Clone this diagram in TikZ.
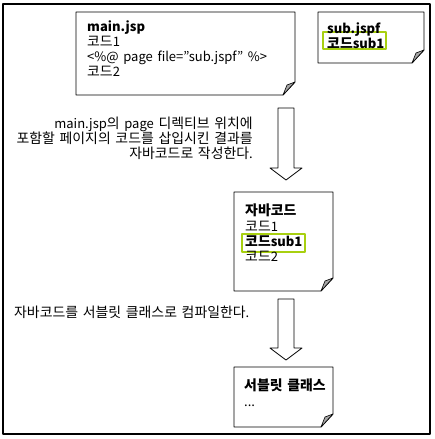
\documentclass[tikz,border=0pt]{standalone}
\usepackage{fontspec}
\setmainfont{Noto Sans CJK KR}[WordSpace=1.6]
\newfontfamily\latfont{Noto Sans CJK KR}[WordSpace=1.6]
\newfontfamily\hgfont{Noto Sans CJK KR}[Scale=1.07, WordSpace=1.6]
\usetikzlibrary{positioning,calc}

% Hangul gets a slightly larger face than Latin
\XeTeXinterchartokenstate=1
\newXeTeXintercharclass\hgclass
\count255="AC00
\loop\XeTeXcharclass\count255=\hgclass \ifnum\count255<"D7A3 \advance\count255 by 1 \repeat
\XeTeXinterchartoks 0 \hgclass={\hgfont}
\XeTeXinterchartoks 4095 \hgclass={\hgfont}
\XeTeXinterchartoks \hgclass 0={\latfont}
\XeTeXinterchartoks \hgclass 4095={\latfont}

\begin{document}
\begin{tikzpicture}[
    x=1pt, y=-1pt,
    font=\fontsize{13}{15.3}\selectfont,
    line join=round,
    line cap=round
]

% ========= Colors =========
\definecolor{subgreen}{RGB}{168,208,16}
\definecolor{curlgray}{RGB}{165,165,165}

\tikzset{
    docpage/.style={inner sep=0pt, outer sep=0pt},
    doctext/.style={inner sep=0pt, align=left, anchor=north west},
    hilite/.style={draw=subgreen, line width=2.6pt},
    blockarrow/.style={draw, line width=0.8pt, fill=white}
}

% ========= Helper: page with folded corner =========
% args: node name
\newcommand{\dogear}[1]{
    \draw[line width=0.9pt] (#1.north west) -- (#1.north east) -- ($(#1.south east)+(0,-13)$)
        -- ($(#1.south east)+(-12,0)$) -- (#1.south west) -- cycle;
    \filldraw[fill=curlgray, line width=0.6pt] ($(#1.south east)+(-12,0)$)
        .. controls ($(#1.south east)+(-10,-5)$) .. ($(#1.south east)+(-8,-10)$)
        -- ($(#1.south east)+(0,-13)$) -- cycle;
}

% ========= Helper: block arrow =========
% args: tail, tip
\newcommand{\fatarrow}[2]{
    \draw[blockarrow] ($(#1)+(-8,0)$) -- ($(#2)+(-8,-12)$) -- ($(#2)+(-16,-12)$) -- (#2)
        -- ($(#2)+(16,-12)$) -- ($(#2)+(8,-12)$) -- ($(#1)+(8,0)$) -- cycle;
}

% ========= Frame =========
\useasboundingbox (0,0) rectangle (434,439);
\draw[line width=1.4pt] (3,4) rectangle (430,434);

% ========= Pages =========
\node[docpage, minimum width=219pt, minimum height=83pt] (main) at (185.5,53.5) {};
\node[docpage, minimum width=106pt, minimum height=51pt] (sub) at (371,37.5) {};
\node[docpage, minimum width=99pt, minimum height=99pt] (java) at (283.5,241.5) {};
\node[docpage, minimum width=99pt, minimum height=60pt] (serv) at (283.5,397) {};

\dogear{main}
\dogear{sub}
\dogear{java}
\dogear{serv}

% ========= Highlights =========
\draw[hilite] ($(sub.north west)+(5,20)$) rectangle ++(63,17);
\draw[hilite] ($(java.north west)+(8,42)$) rectangle ++(63,18);

% ========= Page texts =========
\node[doctext] (maintext) at ($(main.north west)+(11,8)$)
    {\textbf{main.jsp}\\코드1\\<\%@ page file=''sub.jspf'' \%>\\코드2};
\node[doctext] (subtext) at ($(sub.north west)+(9,10)$)
    {\textbf{sub.jspf}\\\textbf{코드sub1}};
\node[doctext] (javatext) at ($(java.north west)+(11,12)$)
    {\textbf{자바코드}\\코드1\\\textbf{코드sub1}\\코드2};
\node[doctext] (servtext) at ($(serv.north west)+(10,12)$)
    {\textbf{서블릿 클래스}\\...};

% ========= Notes =========
\node[inner sep=0pt, align=right, anchor=east, font=\fontsize{13}{14.5}\selectfont] (note1) at (253,138)
    {main.jsp의 page 디렉티브 위치에\\포함할 페이지의 코드를 삽입시킨 결과를\\자바코드로 작성한다.};
\node[inner sep=0pt, anchor=west] (note2) at (14,312)
    {자바코드를 서블릿 클래스로 컴파일한다.};

% ========= Arrows =========
\coordinate (a1tail) at ($(java.north |- main.south)+(2.5,13)$);
\coordinate (a1tip) at ($(java.north)+(2.5,-12)$);
\coordinate (a2tail) at ($(java.south)+(2.5,8)$);
\coordinate (a2tip) at ($(serv.north)+(2.5,-7)$);
\fatarrow{a1tail}{a1tip}
\fatarrow{a2tail}{a2tip}

\end{tikzpicture}
\end{document}
